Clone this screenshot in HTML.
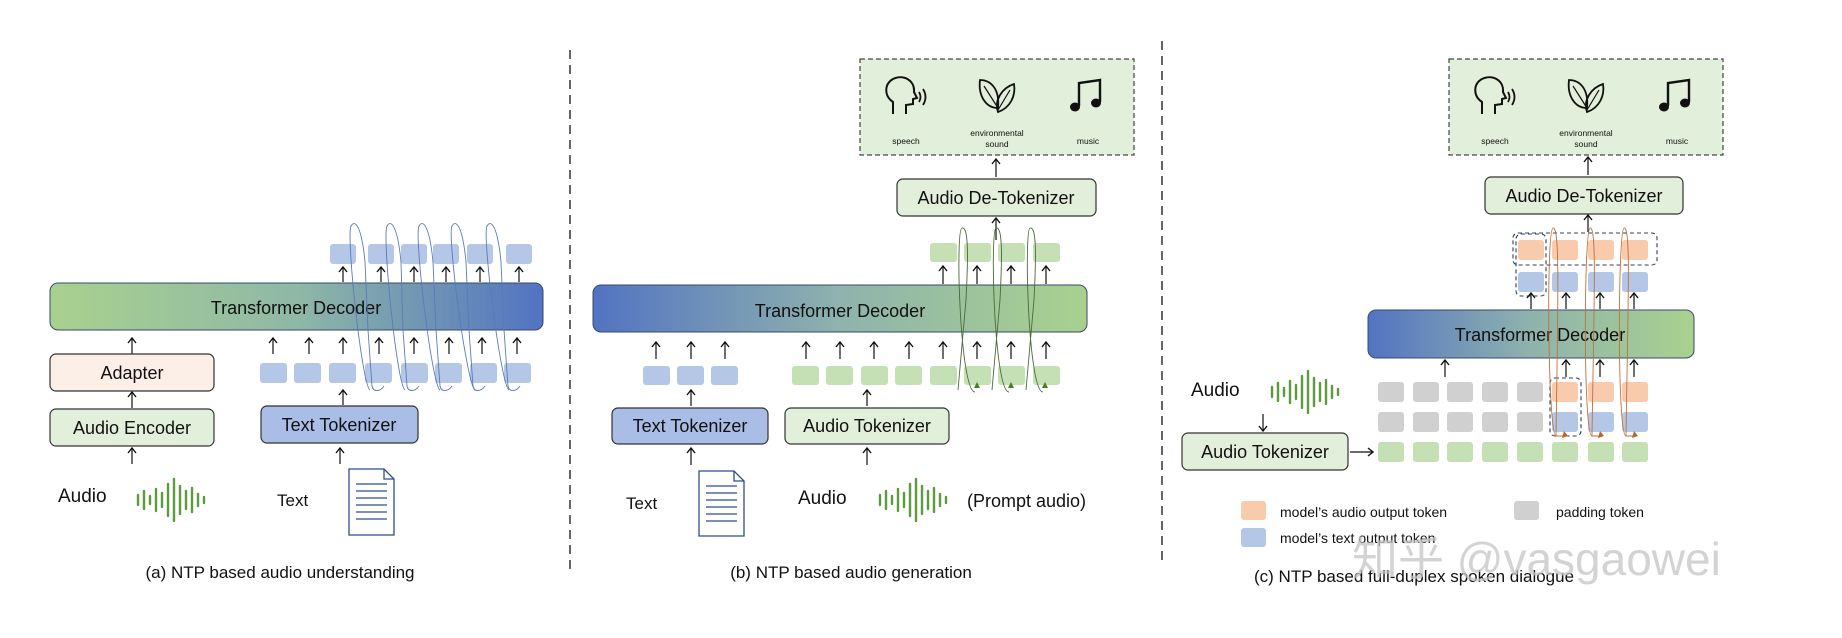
<!DOCTYPE html>
<html><head><meta charset="utf-8"><style>
html,body{margin:0;padding:0;background:#fff;}
svg{display:block;}
text{font-family:"Liberation Sans","Noto Sans CJK SC",sans-serif;fill:#111;}
</style></head><body>
<svg width="1842" height="638" viewBox="0 0 1842 638" xmlns="http://www.w3.org/2000/svg">
<defs>
<linearGradient id="gA" x1="0" x2="1" y1="0" y2="0"><stop offset="0" stop-color="#a9d18e"/><stop offset="0.5" stop-color="#8fb8a6"/><stop offset="1" stop-color="#5273c2"/></linearGradient>
<linearGradient id="gB" x1="0" x2="1" y1="0" y2="0"><stop offset="0" stop-color="#5273c2"/><stop offset="0.5" stop-color="#8fb3ad"/><stop offset="1" stop-color="#a9d18e"/></linearGradient>
<marker id="ar" markerWidth="10" markerHeight="10" refX="9" refY="5" orient="auto" markerUnits="userSpaceOnUse"><path d="M4,1 L9,5 L4,9" fill="none" stroke="#111" stroke-width="1.4"/></marker>
</defs>

<line x1="570" y1="50" x2="570" y2="570" stroke="#333" stroke-width="1.5" stroke-dasharray="9,6"/>
<line x1="1162" y1="41" x2="1162" y2="562" stroke="#333" stroke-width="1.5" stroke-dasharray="9,6"/>

<!-- ========== PANEL A ========== -->
<rect x="50" y="283" width="493" height="47" rx="8" fill="url(#gA)" stroke="#3a4a6a" stroke-width="1"/>
<text x="296" y="314" font-size="18" text-anchor="middle">Transformer Decoder</text>
<g fill="#b4c7e7">
<rect x="330" y="244" width="26" height="20" rx="3"/><rect x="368" y="244" width="26" height="20" rx="3"/><rect x="401" y="244" width="26" height="20" rx="3"/><rect x="433" y="244" width="26" height="20" rx="3"/><rect x="467" y="244" width="26" height="20" rx="3"/><rect x="506" y="244" width="26" height="20" rx="3"/>
<rect x="260" y="363" width="27" height="20" rx="3"/><rect x="294" y="363" width="27" height="20" rx="3"/><rect x="329" y="363" width="27" height="20" rx="3"/><rect x="365" y="363" width="27" height="20" rx="3"/><rect x="401" y="363" width="27" height="20" rx="3"/><rect x="435" y="363" width="27" height="20" rx="3"/><rect x="470" y="363" width="27" height="20" rx="3"/><rect x="504" y="363" width="27" height="20" rx="3"/>
</g>
<g stroke="#111" stroke-width="1.2" marker-end="url(#ar)">
<line x1="343" y1="282" x2="343" y2="267"/><line x1="381" y1="282" x2="381" y2="267"/><line x1="414" y1="282" x2="414" y2="267"/><line x1="446" y1="282" x2="446" y2="267"/><line x1="480" y1="282" x2="480" y2="267"/><line x1="519" y1="282" x2="519" y2="267"/>
<line x1="132" y1="354" x2="132" y2="338"/><line x1="273" y1="354" x2="273" y2="338"/><line x1="309" y1="354" x2="309" y2="338"/><line x1="343" y1="354" x2="343" y2="338"/><line x1="379" y1="354" x2="379" y2="338"/><line x1="414" y1="354" x2="414" y2="338"/><line x1="449" y1="354" x2="449" y2="338"/><line x1="482" y1="354" x2="482" y2="338"/><line x1="517" y1="354" x2="517" y2="338"/>
<line x1="132" y1="408" x2="132" y2="392"/><line x1="343" y1="405" x2="343" y2="390"/>
<line x1="132" y1="464" x2="132" y2="448"/><line x1="340" y1="464" x2="340" y2="448"/>
</g>
<g fill="none" stroke="#5a7ab8" stroke-width="0.9">
<path d="M370,390 C362,386 346,236 351,226 C356,218 362,230 365,262 L368,330"/>
<path d="M405,390 C397,386 382,236 387,226 C392,218 398,230 401,262 L403,330"/>
<path d="M440,390 C432,386 414,236 419,226 C424,218 430,230 433,262 L436,330"/>
<path d="M475,390 C467,386 447,236 452,226 C457,218 463,230 466,262 L469,330"/>
<path d="M509,390 C501,386 482,236 487,226 C492,218 498,230 501,262 L504,330"/>
<path d="M368,330 L372,386 C373,392 380,392 384,386"/><path d="M403,330 L407,386 C408,392 415,392 419,386"/><path d="M436,330 L440,386 C441,392 448,392 452,386"/><path d="M469,330 L473,386 C474,392 481,392 485,386"/><path d="M504,330 L508,386 C509,392 516,392 520,386"/>
</g>
<rect x="50" y="354" width="164" height="37" rx="6" fill="#fcefe7" stroke="#333" stroke-width="1.2"/>
<text x="132" y="379" font-size="18" text-anchor="middle">Adapter</text>
<rect x="50" y="409" width="164" height="37" rx="6" fill="#e2efda" stroke="#333" stroke-width="1.2"/>
<text x="132" y="434" font-size="18" text-anchor="middle">Audio Encoder</text>
<rect x="261" y="406" width="157" height="37" rx="6" fill="#a9bde6" stroke="#333" stroke-width="1.2"/>
<text x="339" y="431" font-size="18" text-anchor="middle">Text Tokenizer</text>
<text x="58" y="502" font-size="19" fill="#333">Audio</text>
<g stroke="#5e9a3e" stroke-width="2.4" stroke-linecap="round">
<line x1="138" y1="495" x2="138" y2="505"/><line x1="144" y1="491" x2="144" y2="509"/><line x1="150" y1="496" x2="150" y2="504"/><line x1="156" y1="489" x2="156" y2="511"/><line x1="162" y1="493" x2="162" y2="507"/><line x1="168" y1="484" x2="168" y2="516"/><line x1="174" y1="479" x2="174" y2="521"/><line x1="180" y1="486" x2="180" y2="514"/><line x1="186" y1="491" x2="186" y2="509"/><line x1="192" y1="488" x2="192" y2="512"/><line x1="198" y1="494" x2="198" y2="506"/><line x1="204" y1="497" x2="204" y2="503"/>
</g>
<text x="277" y="506" font-size="17" fill="#333">Text</text>
<g fill="#fff" stroke="#2f4d8a" stroke-width="1.3">
<path d="M349,469 L384,469 L394,479 L394,535 L349,535 Z"/><path d="M384,469 L384,479 L394,479" fill="none"/>
<line x1="356" y1="484" x2="387" y2="484"/><line x1="356" y1="491" x2="387" y2="491"/><line x1="356" y1="498" x2="387" y2="498"/><line x1="356" y1="505" x2="387" y2="505"/><line x1="356" y1="512" x2="387" y2="512"/><line x1="356" y1="519" x2="387" y2="519"/>
</g>
<text x="280" y="578" font-size="17" text-anchor="middle">(a) NTP based audio understanding</text>

<!-- ========== PANEL B ========== -->
<rect x="860" y="59" width="274" height="96" fill="#e2efda" stroke="#444" stroke-width="1.2" stroke-dasharray="5,3"/>
<g id="icons">
<path d="M893,114 L893,102 C884,96 884,84 893,79 C903,74 915,80 914,92 L917,98 L913,99 L913,104 L906,105 L906,114" fill="none" stroke="#111" stroke-width="2"/>
<path d="M919,92 Q922,97 919,102 M923,89 Q928,97 923,105" fill="none" stroke="#111" stroke-width="1.8"/>
<text x="906" y="144" font-size="8.5" text-anchor="middle" fill="#333">speech</text>
<path d="M980,80 C990,80 1000,88 998,108 C986,108 978,96 980,80 Z" fill="none" stroke="#111" stroke-width="1.8"/>
<path d="M1014,84 C1016,96 1010,108 998,112 C994,100 1002,88 1014,84 Z" fill="none" stroke="#111" stroke-width="1.8"/>
<path d="M984,86 L998,108 M1010,90 L998,110" stroke="#111" stroke-width="1.2"/>
<text x="997" y="136" font-size="8.5" text-anchor="middle" fill="#333">environmental</text>
<text x="997" y="147" font-size="8.5" text-anchor="middle" fill="#333">sound</text>
<path d="M1079,106 L1079,83 L1100,80 L1100,102" fill="none" stroke="#111" stroke-width="2.4"/>
<ellipse cx="1075" cy="107" rx="5" ry="4.5" fill="#111"/><ellipse cx="1096" cy="103" rx="5" ry="4.5" fill="#111"/>
<text x="1088" y="144" font-size="8.5" text-anchor="middle" fill="#333">music</text>
</g>
<rect x="897" y="179" width="199" height="37" rx="6" fill="#e2efda" stroke="#333" stroke-width="1.2"/>
<text x="996" y="204" font-size="18" text-anchor="middle">Audio De-Tokenizer</text>
<line x1="996" y1="177" x2="996" y2="159" stroke="#111" stroke-width="1.2" marker-end="url(#ar)"/>
<line x1="996" y1="240" x2="996" y2="218" stroke="#111" stroke-width="1.2" marker-end="url(#ar)"/>
<rect x="593" y="285" width="494" height="47" rx="8" fill="url(#gB)" stroke="#3a4a6a" stroke-width="1"/>
<text x="840" y="317" font-size="18" text-anchor="middle">Transformer Decoder</text>
<g fill="#c5e0b4">
<rect x="930" y="243" width="27" height="19" rx="3"/><rect x="964" y="243" width="27" height="19" rx="3"/><rect x="998" y="243" width="27" height="19" rx="3"/><rect x="1033" y="243" width="27" height="19" rx="3"/>
<rect x="792" y="366" width="27" height="19" rx="3"/><rect x="826" y="366" width="27" height="19" rx="3"/><rect x="861" y="366" width="27" height="19" rx="3"/><rect x="895" y="366" width="27" height="19" rx="3"/><rect x="930" y="366" width="27" height="19" rx="3"/><rect x="964" y="366" width="27" height="19" rx="3"/><rect x="998" y="366" width="27" height="19" rx="3"/><rect x="1033" y="366" width="27" height="19" rx="3"/>
</g>
<g fill="#b4c7e7"><rect x="643" y="366" width="27" height="19" rx="3"/><rect x="677" y="366" width="27" height="19" rx="3"/><rect x="711" y="366" width="27" height="19" rx="3"/></g>
<g stroke="#111" stroke-width="1.2" marker-end="url(#ar)">
<line x1="943" y1="284" x2="943" y2="266"/><line x1="977" y1="284" x2="977" y2="266"/><line x1="1011" y1="284" x2="1011" y2="266"/><line x1="1046" y1="284" x2="1046" y2="266"/>
<line x1="656" y1="359" x2="656" y2="342"/><line x1="691" y1="359" x2="691" y2="342"/><line x1="725" y1="359" x2="725" y2="342"/>
<line x1="806" y1="359" x2="806" y2="342"/><line x1="840" y1="359" x2="840" y2="342"/><line x1="874" y1="359" x2="874" y2="342"/><line x1="909" y1="359" x2="909" y2="342"/><line x1="943" y1="359" x2="943" y2="342"/><line x1="977" y1="359" x2="977" y2="342"/><line x1="1011" y1="359" x2="1011" y2="342"/><line x1="1046" y1="359" x2="1046" y2="342"/>
<line x1="691" y1="406" x2="691" y2="390"/><line x1="867" y1="406" x2="867" y2="390"/>
<line x1="691" y1="465" x2="691" y2="448"/><line x1="867" y1="465" x2="867" y2="448"/>
</g>
<g fill="none" stroke="#4a6a3a" stroke-width="0.9">
<path d="M975,392 C960,392 955,230 962,228 C969,226 968,260 966,300 L958,390"/>
<path d="M1009,392 C994,392 990,230 996,228 C1003,226 1002,260 1000,300 L992,390"/>
<path d="M1043,392 C1028,392 1024,230 1030,228 C1037,226 1036,260 1034,300 L1026,390"/>
</g>
<g fill="#4a7a2a"><path d="M974,388 l3,-6 l3,6z"/><path d="M1008,388 l3,-6 l3,6z"/><path d="M1042,388 l3,-6 l3,6z"/></g>
<rect x="612" y="408" width="156" height="36" rx="6" fill="#a9bde6" stroke="#333" stroke-width="1.2"/>
<text x="690" y="432" font-size="18" text-anchor="middle">Text Tokenizer</text>
<rect x="785" y="408" width="164" height="36" rx="6" fill="#e2efda" stroke="#333" stroke-width="1.2"/>
<text x="867" y="432" font-size="18" text-anchor="middle">Audio Tokenizer</text>
<text x="626" y="509" font-size="17" fill="#333">Text</text>
<g fill="#fff" stroke="#2f4d8a" stroke-width="1.3">
<path d="M699,471 L734,471 L744,481 L744,536 L699,536 Z"/><path d="M734,471 L734,481 L744,481" fill="none"/>
<line x1="706" y1="486" x2="737" y2="486"/><line x1="706" y1="493" x2="737" y2="493"/><line x1="706" y1="500" x2="737" y2="500"/><line x1="706" y1="507" x2="737" y2="507"/><line x1="706" y1="514" x2="737" y2="514"/><line x1="706" y1="521" x2="737" y2="521"/>
</g>
<text x="798" y="504" font-size="19" fill="#333">Audio</text>
<g stroke="#5e9a3e" stroke-width="2.4" stroke-linecap="round">
<line x1="880" y1="495" x2="880" y2="505"/><line x1="886" y1="491" x2="886" y2="509"/><line x1="892" y1="496" x2="892" y2="504"/><line x1="898" y1="489" x2="898" y2="511"/><line x1="904" y1="493" x2="904" y2="507"/><line x1="910" y1="484" x2="910" y2="516"/><line x1="916" y1="479" x2="916" y2="521"/><line x1="922" y1="486" x2="922" y2="514"/><line x1="928" y1="491" x2="928" y2="509"/><line x1="934" y1="488" x2="934" y2="512"/><line x1="940" y1="494" x2="940" y2="506"/><line x1="946" y1="497" x2="946" y2="503"/>
</g>
<text x="967" y="507" font-size="18">(Prompt audio)</text>
<text x="851" y="578" font-size="17" text-anchor="middle">(b) NTP based audio generation</text>

<!-- ========== PANEL C ========== -->
<rect x="1449" y="59" width="274" height="96" fill="#e2efda" stroke="#444" stroke-width="1.2" stroke-dasharray="5,3"/>
<use href="#icons" transform="translate(589,0)"/>
<rect x="1485" y="177" width="198" height="37" rx="6" fill="#e2efda" stroke="#333" stroke-width="1.2"/>
<text x="1584" y="202" font-size="18" text-anchor="middle">Audio De-Tokenizer</text>
<line x1="1588" y1="175" x2="1588" y2="157" stroke="#111" stroke-width="1.2" marker-end="url(#ar)"/>
<line x1="1588" y1="232" x2="1588" y2="215" stroke="#111" stroke-width="1.2" marker-end="url(#ar)"/>
<g fill="#f8cbad"><rect x="1518" y="240" width="26" height="20" rx="3"/><rect x="1552" y="240" width="26" height="20" rx="3"/><rect x="1588" y="240" width="26" height="20" rx="3"/><rect x="1622" y="240" width="26" height="20" rx="3"/>
<rect x="1552" y="382" width="26" height="20" rx="3"/><rect x="1588" y="382" width="26" height="20" rx="3"/><rect x="1622" y="382" width="26" height="20" rx="3"/></g>
<g fill="#b4c7e7"><rect x="1518" y="272" width="26" height="20" rx="3"/><rect x="1552" y="272" width="26" height="20" rx="3"/><rect x="1588" y="272" width="26" height="20" rx="3"/><rect x="1622" y="272" width="26" height="20" rx="3"/>
<rect x="1552" y="412" width="26" height="20" rx="3"/><rect x="1588" y="412" width="26" height="20" rx="3"/><rect x="1622" y="412" width="26" height="20" rx="3"/></g>
<g fill="#d0d0d0">
<rect x="1378" y="382" width="26" height="20" rx="3"/><rect x="1413" y="382" width="26" height="20" rx="3"/><rect x="1447" y="382" width="26" height="20" rx="3"/><rect x="1482" y="382" width="26" height="20" rx="3"/><rect x="1517" y="382" width="26" height="20" rx="3"/>
<rect x="1378" y="412" width="26" height="20" rx="3"/><rect x="1413" y="412" width="26" height="20" rx="3"/><rect x="1447" y="412" width="26" height="20" rx="3"/><rect x="1482" y="412" width="26" height="20" rx="3"/><rect x="1517" y="412" width="26" height="20" rx="3"/>
</g>
<g fill="#c5e0b4">
<rect x="1378" y="442" width="26" height="20" rx="3"/><rect x="1413" y="442" width="26" height="20" rx="3"/><rect x="1447" y="442" width="26" height="20" rx="3"/><rect x="1482" y="442" width="26" height="20" rx="3"/><rect x="1517" y="442" width="26" height="20" rx="3"/><rect x="1552" y="442" width="26" height="20" rx="3"/><rect x="1588" y="442" width="26" height="20" rx="3"/><rect x="1622" y="442" width="26" height="20" rx="3"/>
</g>
<g fill="none" stroke="#2f3f60" stroke-width="1.1" stroke-dasharray="4,3">
<rect x="1513" y="233" width="144" height="32" rx="5"/>
<rect x="1516" y="234" width="30" height="62" rx="5"/>
<rect x="1550" y="378" width="31" height="58" rx="5"/>
</g>
<rect x="1368" y="310" width="326" height="48" rx="8" fill="url(#gB)" stroke="#3a4a6a" stroke-width="1"/>
<text x="1540" y="341" font-size="18" text-anchor="middle">Transformer Decoder</text>
<g fill="none" stroke="#c0703a" stroke-width="0.9">
<path d="M1556,436 C1548,436 1546,230 1553,228 C1560,226 1558,300 1556,436"/>
<path d="M1592,436 C1583,436 1584,230 1590,228 C1597,226 1594,300 1592,436"/>
<path d="M1626,436 C1617,436 1618,230 1624,228 C1631,226 1628,300 1626,436"/>
<path d="M1556,436 L1563,436 M1592,436 L1599,436 M1626,436 L1633,436"/>
</g>
<g fill="#c0602a"><path d="M1562,438 l2,-7 l4,5z"/><path d="M1598,438 l2,-7 l4,5z"/><path d="M1632,438 l2,-7 l4,5z"/></g>
<g stroke="#111" stroke-width="1.2" marker-end="url(#ar)">
<line x1="1531" y1="309" x2="1531" y2="293"/><line x1="1566" y1="309" x2="1566" y2="293"/><line x1="1600" y1="309" x2="1600" y2="293"/><line x1="1634" y1="309" x2="1634" y2="293"/>
<line x1="1445" y1="377" x2="1445" y2="360"/><line x1="1566" y1="377" x2="1566" y2="360"/><line x1="1600" y1="377" x2="1600" y2="360"/><line x1="1634" y1="377" x2="1634" y2="360"/>
</g>
<text x="1191" y="396" font-size="19" fill="#333">Audio</text>
<g stroke="#5e9a3e" stroke-width="2.4" stroke-linecap="round">
<line x1="1272" y1="387" x2="1272" y2="397"/><line x1="1278" y1="383" x2="1278" y2="401"/><line x1="1284" y1="388" x2="1284" y2="396"/><line x1="1290" y1="381" x2="1290" y2="403"/><line x1="1296" y1="385" x2="1296" y2="399"/><line x1="1302" y1="376" x2="1302" y2="408"/><line x1="1308" y1="371" x2="1308" y2="413"/><line x1="1314" y1="378" x2="1314" y2="406"/><line x1="1320" y1="383" x2="1320" y2="401"/><line x1="1326" y1="380" x2="1326" y2="404"/><line x1="1332" y1="386" x2="1332" y2="398"/><line x1="1338" y1="389" x2="1338" y2="395"/>
</g>
<line x1="1263" y1="414" x2="1263" y2="431" stroke="#111" stroke-width="1.2" marker-end="url(#ar)"/>
<rect x="1182" y="433" width="166" height="37" rx="6" fill="#e2efda" stroke="#333" stroke-width="1.2"/>
<text x="1265" y="458" font-size="18" text-anchor="middle">Audio Tokenizer</text>
<line x1="1350" y1="452" x2="1373" y2="452" stroke="#111" stroke-width="1.2" marker-end="url(#ar)"/>
<rect x="1241" y="501" width="25" height="19" rx="3" fill="#f8cbad"/>
<text x="1280" y="517" font-size="14">model’s audio output token</text>
<rect x="1514" y="501" width="25" height="19" rx="3" fill="#d0d0d0"/>
<text x="1556" y="517" font-size="14">padding token</text>
<rect x="1241" y="528" width="25" height="19" rx="3" fill="#b4c7e7"/>
<text x="1280" y="543" font-size="14">model’s text output token</text>
<text x="1254" y="582" font-size="17">(c) NTP based full-duplex spoken dialogue</text>
<text x="1352" y="575" font-size="46" style="fill:#c4c4c4;fill-opacity:0.75">知乎 @vasgaowei</text>
</svg>
</body></html>
